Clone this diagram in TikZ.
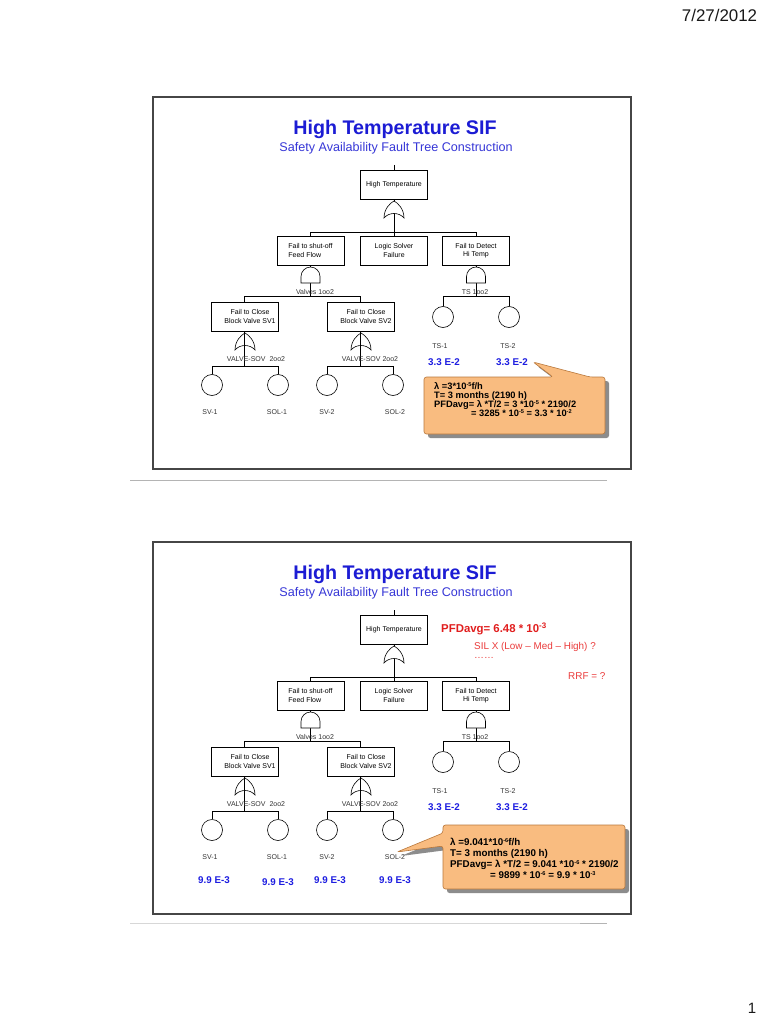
\documentclass[tikz,border=0pt]{standalone}
\usepackage{fontspec}
\setmainfont{Liberation Sans}
\definecolor{titleblue}{RGB}{28,28,212}
\definecolor{subblue}{RGB}{55,55,215}
\definecolor{valblue}{RGB}{30,30,225}
\definecolor{calloutfill}{RGB}{249,188,128}
\definecolor{calloutdraw}{RGB}{185,120,60}
\definecolor{framegray}{RGB}{70,70,70}
\definecolor{sepgray}{RGB}{180,180,180}
\definecolor{seplight}{RGB}{215,215,215}
\definecolor{pfdred}{RGB}{225,30,30}
\definecolor{silred}{RGB}{235,60,60}
\newcommand\supsm[1]{\raisebox{2.6pt}{\fontsize{5.6}{6}\selectfont #1}}
\tikzset{
 evbox/.style={draw, line width=0.6pt, minimum width=67pt, minimum height=29pt, inner sep=1pt, font=\fontsize{7}{8.3}\selectfont},
 basic/.style={draw, circle, line width=0.6pt, minimum size=21pt, inner sep=0pt},
 conn/.style={line width=0.6pt},
 small/.style={font=\fontsize{7}{8}\selectfont, inner sep=0pt, text=black!80},
 value/.style={font=\fontsize{9.8}{11}\selectfont\bfseries, text=valblue, inner sep=0pt},
 ctexta/.style={font=\fontsize{9.3}{9}\selectfont\bfseries, inner sep=0pt, anchor=base west},
 ctextb/.style={font=\fontsize{9.8}{10}\selectfont\bfseries, inner sep=0pt, anchor=base west},
 callout/.style={draw=calloutdraw, fill=calloutfill, line width=0.6pt, rounded corners=2.5pt},
 cshadow/.style={fill=black!45, rounded corners=2.5pt, shift={(4,4)}},
 orgate/.pic={\draw[line width=0.6pt, pic actions] (-10,17) .. controls (-10,8) and (-4,2) .. (0,0) .. controls (4,2) and (10,8) .. (10,17) .. controls (5,11) and (-5,11) .. (-10,17) -- cycle;},
 andgate/.pic={\draw[line width=0.6pt, pic actions] (-9.5,0) -- (-9.5,-6.5) .. controls (-9.5,-11.7) and (-5.2,-16) .. (0,-16) .. controls (5.2,-16) and (9.5,-11.7) .. (9.5,-6.5) -- (9.5,0) -- cycle;},
}
\newcommand\fttree[1]{%
 \draw[framegray, line width=1.2pt] (153,97) rectangle (631,469);
 \node[font=\fontsize{19.7}{22}\selectfont\bfseries, text=titleblue, inner sep=0pt] (#1title) at (395,129.5) {High Temperature SIF};
 \node[font=\fontsize{12.6}{14}\selectfont, text=subblue, inner sep=0pt] (#1sub) at (396,148.5) {Safety Availability Fault Tree Construction};
 \node[evbox] (#1ht) at (394,184.5) {High Temperature};
 \coordinate (#1top) at (394,165);
 \draw[conn] (#1top) -- (#1ht.north);
 \node[evbox, align=left] (#1fs) at (310.5,250.5) {Fail to shut-off\\Feed Flow};
 \node[evbox, align=center] (#1ls) at (394,250.5) {Logic Solver\\Failure};
 \node[evbox, align=center] (#1fd) at (476,250.5) {Fail to Detect\\Hi Temp};
 \draw[conn] (#1ht.south) -- (#1ls.north);
 \draw[conn] (#1fs.north) -- ++(0,-3) -| (#1fd.north);
 \pic[fill=white] at (394,201) {orgate};
 % valves branch
 \node[evbox, align=center] (#1svb) at (244.5,316.5) {\hspace*{11pt}Fail to Close\\\hspace*{11pt}Block Valve SV1};
 \node[evbox, align=center] (#1svc) at (360.5,316.5) {\hspace*{11pt}Fail to Close\\\hspace*{11pt}Block Valve SV2};
 \coordinate (#1ja) at (310.5,297);
 \draw[conn] (#1fs.south) -- (#1ja);
 \draw[conn] (#1svb.north) -- ++(0,-5) -| (#1svc.north);
 \pic[fill=white] at (310.5,283) {andgate};
 \node[small] (#1lv) at (315,292) {Valves 1oo2};
 % TS branch
 \node[basic] (#1tsa) at (443,317) {};
 \node[basic] (#1tsb) at (509,317) {};
 \coordinate (#1jb) at (476,297);
 \draw[conn] (#1fd.south) -- (#1jb);
 \draw[conn] (#1tsa.north) -- ++(0,-9.5) -| (#1tsb.north);
 \pic[fill=white] at (476,283) {andgate};
 \node[small] (#1lts) at (475,292) {TS 1oo2};
 \node[small] (#1ltsa) at (440,346) {TS-1};
 \node[small] (#1ltsb) at (508,346) {TS-2};
 \node[value] (#1vtsa) at (444,362) {3.3 E-2};
 \node[value] (#1vtsb) at (512,362) {3.3 E-2};
 % SV1 branch
 \node[basic] (#1sva) at (212,385) {};
 \node[basic] (#1sola) at (278,385) {};
 \coordinate (#1jc) at (244.5,367);
 \draw[conn] (#1svb.south) -- (#1jc);
 \draw[conn] (#1sva.north) -- ++(0,-7.5) -| (#1sola.north);
 \pic at (245,333) {orgate};
 \node[small] (#1lsova) at (256,359) {VALVE-SOV\hspace{4pt}2oo2};
 % SV2 branch
 \node[basic] (#1svd) at (327,385) {};
 \node[basic] (#1solb) at (393,385) {};
 \coordinate (#1jd) at (360.5,367);
 \draw[conn] (#1svc.south) -- (#1jd);
 \draw[conn] (#1svd.north) -- ++(0,-7.5) -| (#1solb.north);
 \pic at (361,333) {orgate};
 \node[small] (#1lsovb) at (370,359) {VALVE-SOV 2oo2};
 \node[small] (#1lsva) at (210,412) {SV-1};
 \node[small] (#1lsola) at (277,412) {SOL-1};
 \node[small] (#1lsvb) at (327,412) {SV-2};
 \node[small] (#1lsolb) at (395,412) {SOL-2};
}
\begin{document}
\begin{tikzpicture}[x=1pt,y=-1pt]
\useasboundingbox (0,0) rectangle (768,1024);
\fill[white] (0,0) rectangle (768,1024);
\node[font=\fontsize{16.9}{19}\selectfont, inner sep=0pt, text=black!90] (date) at (719.5,15) {7/27/2012};
\node[font=\fontsize{15}{17}\selectfont, inner sep=0pt, text=black!90] (page) at (752,1008) {1};
% slide 1
\fttree{a}
\path[cshadow] (424,377) -- (553,377) -- (533,362) -- (590,377) -- (605,377) -- (605,434) -- (424,434) -- cycle;
\path[callout] (424,377) -- (553,377) -- (533,362) -- (590,377) -- (605,377) -- (605,434) -- (424,434) -- cycle;
\node[ctexta] (ca1) at (434,389) {λ =3*10\supsm{-5}f/h};
\node[ctexta] (ca2) at (434,398) {T= 3 months (2190 h)};
\node[ctexta] (ca3) at (434,407) {PFDavg= λ *T/2 = 3 *10\supsm{-5} * 2190/2};
\node[ctexta] (ca4) at (471,416) {= 3285 * 10\supsm{-5} = 3.3 * 10\supsm{-2}};
\draw[sepgray, line width=1pt] (130,480) -- (607,480);
% slide 2
\begin{scope}[shift={(0,445)}]
\fttree{b}
\node[font=\fontsize{11.4}{13}\selectfont\bfseries, text=pfdred, inner sep=0pt, anchor=west] (pfd) at (441,184) {PFDavg= 6.48 * 10\textsuperscript{-3}};
\node[font=\fontsize{9.9}{11}\selectfont, text=silred, inner sep=0pt, anchor=west] (sil) at (474,202) {SIL X (Low – Med – High) ?};
\node[font=\fontsize{9.9}{11}\selectfont, text=silred, inner sep=0pt, anchor=west] (dots) at (474,213) {……};
\node[font=\fontsize{9.9}{11}\selectfont, text=silred, inner sep=0pt, anchor=west] (rrf) at (568,231) {RRF = ?};
\node[value] (bva) at (214,435) {9.9 E-3};
\node[value] (bvb) at (278,437) {9.9 E-3};
\node[value] (bvc) at (330,435) {9.9 E-3};
\node[value] (bvd) at (395,435) {9.9 E-3};
\path[cshadow] (443,380) -- (625,380) -- (625,444) -- (443,444) -- (443,401) -- (397,407) -- (443,388) -- cycle;
\path[callout] (443,380) -- (625,380) -- (625,444) -- (443,444) -- (443,401) -- (397,407) -- (443,388) -- cycle;
\node[ctextb] (cb1) at (450,400) {λ =9.041*10\supsm{-6}f/h};
\node[ctextb] (cb2) at (450,411) {T= 3 months (2190 h)};
\node[ctextb] (cb3) at (450,422) {PFDavg= λ *T/2 = 9.041 *10\supsm{-6} * 2190/2};
\node[ctextb] (cb4) at (490,433) {= 9899 * 10\supsm{-6} = 9.9 * 10\supsm{-3}};
\end{scope}
\draw[seplight, line width=1pt] (130,923) -- (607,923);
\draw[sepgray, line width=1pt] (580,923) -- (607,923);
\end{tikzpicture}
\end{document}
